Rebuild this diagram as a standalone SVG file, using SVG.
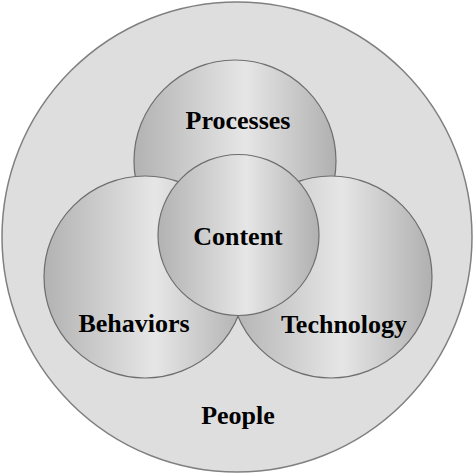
<svg xmlns="http://www.w3.org/2000/svg" width="474" height="474" viewBox="0 0 474 474">
<defs>
<linearGradient id="metal" x1="0" y1="0" x2="1" y2="0">
<stop offset="0" stop-color="#b2b2b2"/>
<stop offset="0.55" stop-color="#e6e6e6"/>
<stop offset="1" stop-color="#b0b0b0"/>
</linearGradient>
<style>
.c{fill:url(#metal);stroke:#6e6e6e;stroke-width:1.2}
.o{fill:#dedede;stroke:#808080;stroke-width:1.5}
text{font-family:"Liberation Serif","Times New Roman",serif;font-weight:bold;font-size:26px;fill:#000;text-anchor:middle}
</style>
</defs>
<rect width="474" height="474" fill="#ffffff"/>
<g id="people">
<circle class="o" cx="237" cy="237" r="235"/>
<text x="238" y="424">People</text>
</g>
<g id="processes">
<circle class="c" cx="235" cy="161" r="101"/>
<text x="238" y="129">Processes</text>
</g>
<g id="behaviors">
<circle class="c" cx="145" cy="277" r="101"/>
<text x="134" y="332">Behaviors</text>
</g>
<g id="technology">
<circle class="c" cx="331" cy="277" r="101"/>
<text x="344" y="333">Technology</text>
</g>
<g id="content">
<circle class="c" cx="238.5" cy="235" r="80.5"/>
<text x="238" y="245">Content</text>
</g>
<g id="connectors"/>
</svg>
